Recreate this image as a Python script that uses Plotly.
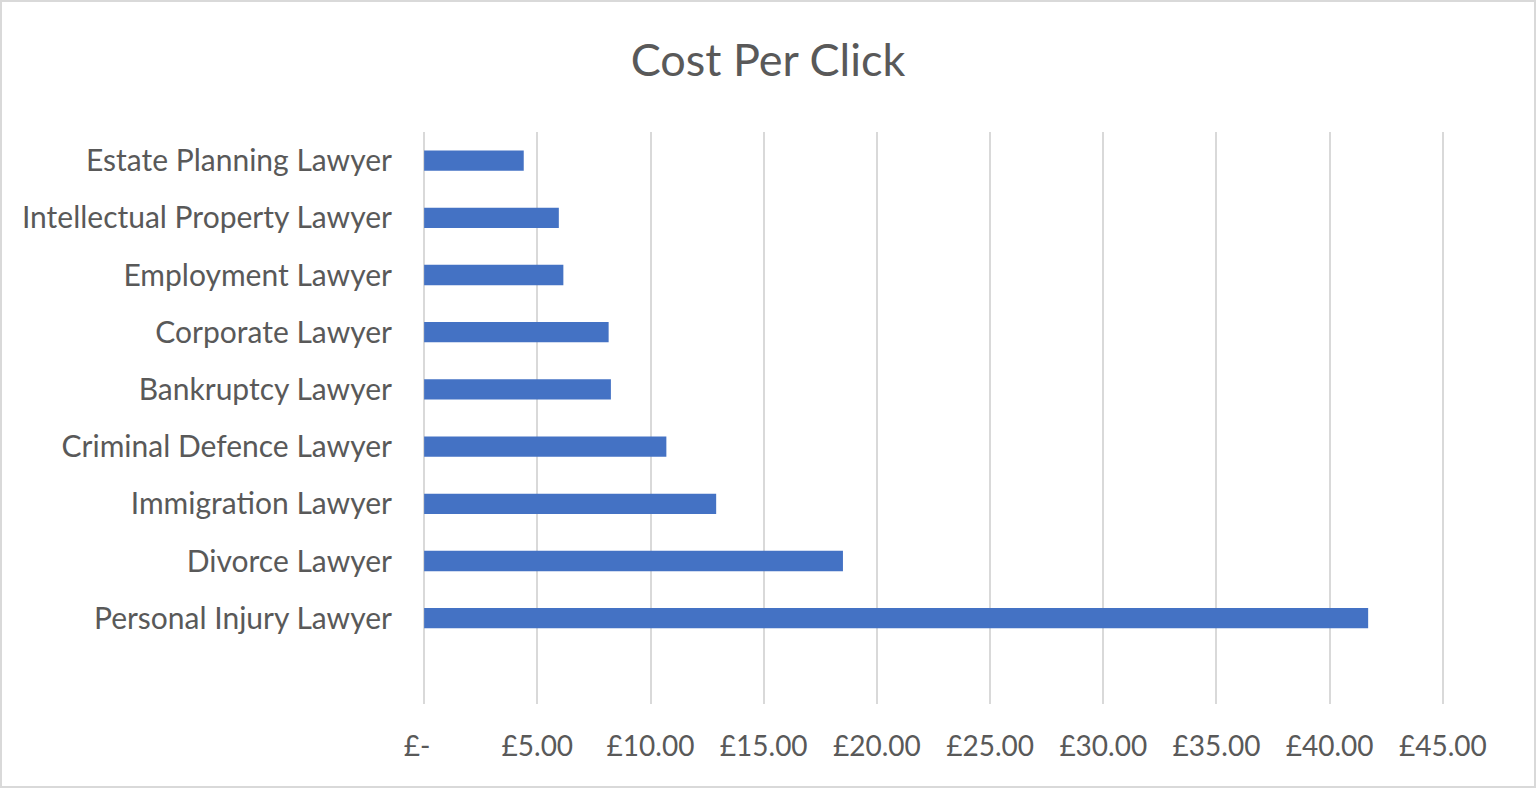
import plotly.graph_objects as go

# practice areas, bottom to top as Excel draws them
lawyer_types = [
    "Personal Injury Lawyer",
    "Divorce Lawyer",
    "Immigration Lawyer",
    "Criminal Defence Lawyer",
    "Bankruptcy Lawyer",
    "Corporate Lawyer",
    "Employment Lawyer",
    "Intellectual Property Lawyer",
    "Estate Planning Lawyer",
]
cost_per_click = [41.70, 18.50, 12.90, 10.70, 8.25, 8.15, 6.15, 5.95, 4.40]

tick_values = [0, 5, 10, 15, 20, 25, 30, 35, 40, 45]
tick_labels = ["£-  ", "£5.00", "£10.00", "£15.00", "£20.00", "£25.00",
               "£30.00", "£35.00", "£40.00", "£45.00"]

FONT = "Lato"
GREY_TEXT = "#595959"
GRID = "#d9d9d9"

fig = go.Figure(data=[go.Bar(
    x=cost_per_click,
    y=lawyer_types,
    orientation="h",
    width=0.355,
    marker=dict(color="#4472C4", line=dict(width=0)),
    hovertemplate="%{y}: £%{x:.2f}<extra></extra>",
)])

fig.update_layout(
    width=1536,
    height=788,
    paper_bgcolor="white",
    plot_bgcolor="white",
    margin=dict(l=423, r=92, t=132, b=84),
    showlegend=False,
    title=dict(
        text="Cost Per Click",
        x=0.5,
        xanchor="center",
        y=1 - 60 / 788,
        yanchor="middle",
        font=dict(family=FONT, size=45, color=GREY_TEXT),
    ),
    font=dict(family=FONT, color=GREY_TEXT),
)

# pad the range a hair so the 0 and 45 gridlines are drawn at the edges
fig.update_xaxes(
    range=[-0.05, 45.05],
    tickvals=tick_values,
    ticktext=tick_labels,
    showgrid=True,
    gridcolor=GRID,
    gridwidth=2,
    zeroline=True,
    zerolinecolor=GRID,
    zerolinewidth=2,
    showline=False,
    ticks="",
    ticklabelstandoff=23,
    tickfont=dict(family=FONT, size=28, color=GREY_TEXT),
)

fig.update_yaxes(
    type="category",
    range=[-1.5, 8.5],
    showgrid=False,
    zeroline=False,
    showline=False,
    ticks="",
    ticklabelstandoff=30,
    tickfont=dict(family=FONT, size=30, color=GREY_TEXT),
)

# thin grey frame round the whole chart, like the Excel chart area border
fig.add_shape(
    type="rect", xref="paper", yref="paper",
    x0=-423 / 1021 + 1 / 1021, x1=1 + 91 / 1021,
    y0=-84 / 572 + 1 / 572, y1=1 + 131 / 572,
    line=dict(color=GRID, width=2),
    layer="below",
)

fig.write_html(
    "out.html",
    config={"displayModeBar": False},
    post_script="document.body.style.margin='0';",
)
